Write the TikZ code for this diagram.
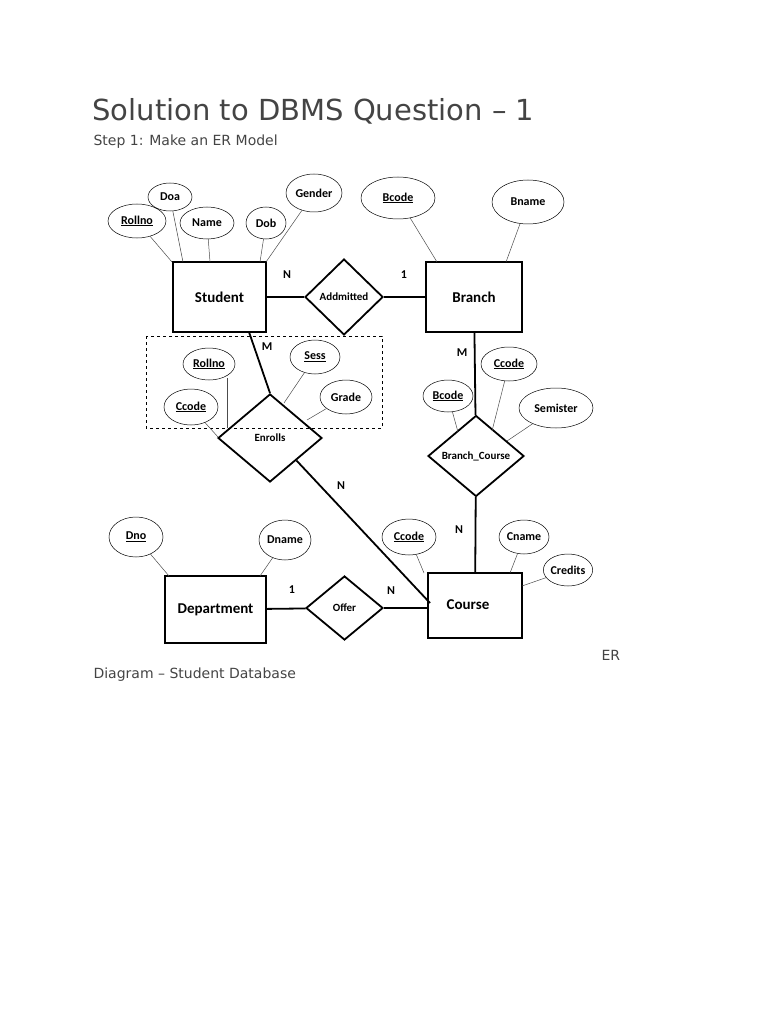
\documentclass[tikz,border=0pt]{standalone}
\usepackage{fontspec}
\setmainfont{DejaVu Sans}
\newfontfamily\erfont{Carlito}
\usetikzlibrary{shapes.geometric}
\definecolor{textgray}{RGB}{68,68,68}

\begin{document}
\begin{tikzpicture}[x=1pt, y=-1pt,
    entity/.style={draw, line width=1.8pt, minimum width=#1, inner sep=0pt, font=\erfont\bfseries\fontsize{15}{17}\selectfont},
    rel/.style={draw, diamond, line width=1.8pt, inner sep=0pt, aspect=1, font=\erfont\bfseries\fontsize{11}{13}\selectfont},
    attr/.style={draw, ellipse, line width=0.5pt, inner sep=0pt, font=\erfont\bfseries\fontsize{12}{14}\selectfont},
    link/.style={line width=0.5pt, gray!60!black},
    conn/.style={line width=1.8pt},
    card/.style={font=\erfont\bfseries\fontsize{12}{14}\selectfont}]

    \useasboundingbox (0,0) rectangle (768,1024);

    % headings
    \node[anchor=base west, textgray, font=\fontsize{29}{34}\selectfont] (title) at (89,121) {Solution to DBMS Question – 1};
    \node[anchor=base west, textgray, font=\fontsize{14}{17}\selectfont] (step) at (90,146) {Step 1: Make an ER Model};

    % entities
    \node[entity=93pt, minimum height=70pt] (student) at (219.5,297) {Student};
    \node[entity=96pt, minimum height=70pt] (branch) at (474,297) {Branch};
    \node[entity=94pt, minimum height=65pt] (course) at (475,605.5) {};
    \node[font=\erfont\bfseries\fontsize{15}{17}\selectfont] (coursel) at (468,605) {Course};
    \node[entity=101pt, minimum height=67pt] (dept) at (215.5,609.5) {Department};

    % relationships
    \node[rel, minimum width=78pt, minimum height=76pt] (admit) at (344,297) {Addmitted};
    \node[rel, minimum width=104pt, minimum height=88pt] (enrolls) at (270,438) {Enrolls};
    \node[rel, minimum width=96pt, minimum height=81pt] (bcourse) at (476,456) {Branch\_Course};
    \node[rel, minimum width=77pt, minimum height=64pt] (offer) at (344.5,608) {Offer};

    % student attributes
    \node[attr, minimum width=58pt, minimum height=34pt] (rollno) at (137,221) {\underline{Rollno}};
    \node[attr, minimum width=44pt, minimum height=28pt] (doa) at (170,197) {Doa};
    \node[attr, minimum width=54pt, minimum height=32pt] (name) at (207,223) {Name};
    \node[attr, minimum width=40pt, minimum height=32pt] (dob) at (266,223) {Dob};
    \node[attr, minimum width=56pt, minimum height=38pt] (gender) at (314,193) {Gender};
    \draw[link] (rollno) -- (172,262);
    \draw[link] (doa) -- (183,262);
    \draw[link] (name) -- (210,262);
    \draw[link] (dob) -- (260,262);
    \draw[link] (gender) -- (266,262);

    % branch attributes
    \node[attr, minimum width=74pt, minimum height=42pt] (bcode) at (398,198) {\underline{Bcode}};
    \node[attr, minimum width=72pt, minimum height=44pt] (bname) at (528,202) {Bname};
    \draw[link] (bcode) -- (437,262);
    \draw[link] (bname) -- (506,262);

    % enrolls attributes
    \draw[dashed, line width=0.5pt] (146,336) rectangle (382,428);
    \node[attr, minimum width=52pt, minimum height=32pt] (rollnoe) at (209,364) {\underline{Rollno}};
    \node[attr, minimum width=54pt, minimum height=36pt] (ccodee) at (191,407) {\underline{Ccode}};
    \node[attr, minimum width=50pt, minimum height=34pt] (sess) at (315,357) {\underline{Sess}};
    \node[attr, minimum width=52pt, minimum height=34pt] (grade) at (346,397) {Grade};
    \draw[link] (227,378) -- (227,428);
    \draw[link] (ccodee) -- (218,437);
    \draw[link] (sess) -- (284,403);
    \draw[link] (grade) -- (307,420);

    % branch_course attributes
    \node[attr, minimum width=50pt, minimum height=32pt] (bcodeb) at (448,396) {\underline{Bcode}};
    \node[attr, minimum width=56pt, minimum height=34pt] (ccodeb) at (509,364) {\underline{Ccode}};
    \node[attr, minimum width=74pt, minimum height=40pt] (semister) at (556,408) {Semister};
    \draw[link] (bcodeb) -- (458,432);
    \draw[link] (ccodeb) -- (492,431);
    \draw[link] (semister) -- (507,441);

    % course attributes
    \node[attr, minimum width=54pt, minimum height=36pt] (ccodec) at (409,537) {\underline{Ccode}};
    \node[attr, minimum width=50pt, minimum height=34pt] (cname) at (524,537) {Cname};
    \node[attr, minimum width=48pt, minimum height=32pt] (credits) at (568,570) {Credits};
    \draw[link] (ccodec) -- (424,573);
    \draw[link] (cname) -- (510,573);
    \draw[link] (credits) -- (522,586);

    % department attributes
    \node[attr, minimum width=54pt, minimum height=40pt] (dno) at (136,537) {\underline{Dno}};
    \node[attr, minimum width=52pt, minimum height=40pt] (dname) at (285,540) {Dname};
    \draw[link] (dno) -- (169,576);
    \draw[link] (dname) -- (260,576);

    % relationship lines
    \draw[conn] (student) -- (admit);
    \draw[conn] (admit) -- (branch);
    \draw[conn] (249,332) -- (enrolls.north);
    \draw[conn] (enrolls.south east) -- (430,603);
    \draw[conn] (branch) -- (bcourse);
    \draw[conn] (bcourse) -- (course);
    \draw[conn] (dept) -- (offer);
    \draw[conn] (offer) -- (course.west |- offer);

    % cardinalities
    \node[card] (c1) at (287,275) {N};
    \node[card] (c2) at (404,275) {1};
    \node[card] (c3) at (267,347) {M};
    \node[card] (c4) at (341,486) {N};
    \node[card] (c5) at (462,353) {M};
    \node[card] (c6) at (459,530) {N};
    \node[card] (c7) at (292,590) {1};
    \node[card] (c8) at (391,591) {N};

    % caption
    \node[anchor=base west, textgray, font=\fontsize{14}{17}\selectfont] (cap1) at (598,660) {ER};
    \node[anchor=base west, textgray, font=\fontsize{14}{17}\selectfont] (cap2) at (90,678) {Diagram – Student Database};
\end{tikzpicture}
\end{document}
